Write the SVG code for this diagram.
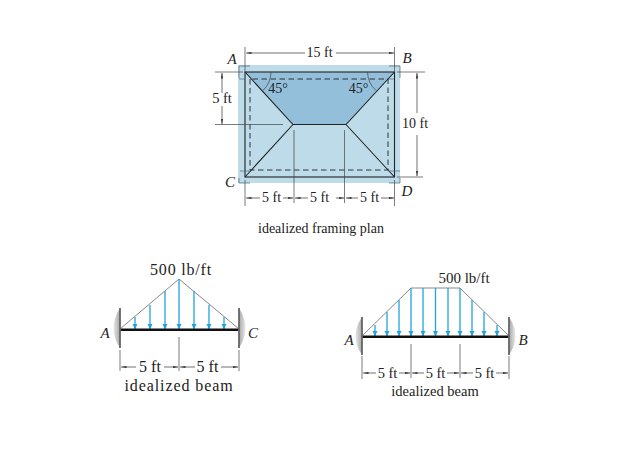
<svg xmlns="http://www.w3.org/2000/svg" width="638" height="451" viewBox="0 0 638 451">
<defs>
<marker id="dim" markerWidth="6" markerHeight="4" refX="5.500" refY="2" orient="auto" markerUnits="userSpaceOnUse"><path d="M0,0.900 L6,2 L0,3.100Z" fill="#333"/></marker>
<marker id="load" markerWidth="6" markerHeight="6" refX="3" refY="5.500" orient="0" markerUnits="userSpaceOnUse"><path d="M0.300,0 L5.700,0 L3,6Z" fill="#1fa5dc"/></marker>
<linearGradient id="wallL" x1="0" x2="1" y1="0" y2="0"><stop offset="0" stop-color="#e8e8e8"/><stop offset="1" stop-color="#a8a8a8"/></linearGradient>
<linearGradient id="wallR" x1="0" x2="1" y1="0" y2="0"><stop offset="0" stop-color="#a8a8a8"/><stop offset="1" stop-color="#e8e8e8"/></linearGradient>
</defs>
<style>
text{font-family:"Liberation Serif",serif;font-size:14px;fill:#222}
.i{font-style:italic;font-size:15px}
.m{text-anchor:middle}
.d{stroke:#444;stroke-width:.7;fill:none}
.da{stroke:#333;stroke-width:.7;fill:none;marker-end:url(#dim)}
.e{stroke:#222;stroke-width:1.100;fill:none}
.l{stroke:#1fa5dc;stroke-width:1.300;marker-end:url(#load)}
.p{stroke:#888;stroke-width:1;fill:none}
</style>
<rect width="638" height="451" fill="#fff"/>
<g id="framing-plan">
<rect x="238" y="65" width="162" height="118" fill="#bedbe9"/>
<path d="M245,72H394.500L346,124.500H293Z" fill="#93bfdb"/>
<path d="M250,79V170H388V79H250" fill="none" stroke="#222" stroke-width=".9" stroke-dasharray="5.500 3.500"/>
<rect x="245" y="72" width="149.500" height="105" class="e"/>
<path d="M245,72L293,124.500H346L394.500,72M293,124.500L245,177M346,124.500L394.500,177" class="e"/>
<path d="M239,78V66H250M239,178V183H250M389,66H400V78M389,183H400V178M239,79H245M389,79H394M240,171H250M389,171H400" fill="none" stroke="#4a6678" stroke-width=".7"/>
</g>
<g id="connectors">
<path class="d" d="M245,47V72M394.500,47V72M215,72H243M397,72H425M215,124.500H283M397,177H423M245,180V206M294,130V203M344.500,130V203M394.500,180V206"/>
<path class="da" d="M305,53H246"/><path class="da" d="M336,53H394"/>
<path class="da" d="M222,93V73"/><path class="da" d="M222,106V124"/>
<path class="da" d="M417,113V73"/><path class="da" d="M417,135V176"/>
<path class="da" d="M260,198H246"/><path class="da" d="M283,198H293"/><path class="da" d="M308,198H295"/><path class="da" d="M336,198H344"/><path class="da" d="M358,198H346"/><path class="da" d="M381,198H394"/>
<path class="d" d="M271,72A26,26 0 0 1 263,90.500M367.500,72A26,26 0 0 0 376,90.500"/>
<path class="d" d="M120,350V371M179,337V371M239,350V371M362,356V379M411,344V378M460,344V378M509,356V379"/>
<path class="da" d="M136,367H121"/><path class="da" d="M164,367H178"/><path class="da" d="M195,367H180"/><path class="da" d="M221,367H238"/>
<path class="da" d="M376,373H363"/><path class="da" d="M399,373H410"/><path class="da" d="M424,373H412"/><path class="da" d="M447,373H459"/><path class="da" d="M473,373H461"/><path class="da" d="M496,373H508"/>
</g>
<g id="beam-ac">
<path d="M120,308Q107,328 120,348Z" fill="url(#wallL)"/>
<path d="M239,308Q252,328 239,348Z" fill="url(#wallR)"/>
<path class="p" d="M120,329L179,279L239,329"/>
<path class="l" d="M135,317V329"/><path class="l" d="M150,305V329"/><path class="l" d="M165,291V329"/><path class="l" d="M179,279V329"/><path class="l" d="M194,291V329"/><path class="l" d="M209,305V329"/><path class="l" d="M224,317V329"/>
<path d="M120,329.700H239" stroke="#111" stroke-width="2.400"/>
<path d="M120,308V348M239,308V348" stroke="#666" stroke-width="1.800"/>
</g>
<g id="beam-ab">
<path d="M362,317Q349,336 362,355Z" fill="url(#wallL)"/>
<path d="M509,317Q522,336 509,355Z" fill="url(#wallR)"/>
<path class="p" d="M362,336L411,288H460L509,336"/>
<path class="l" d="M375,325V336"/><path class="l" d="M387,312V336"/><path class="l" d="M399,300V336"/><path class="l" d="M411,288V336"/><path class="l" d="M423,288V336"/><path class="l" d="M435.500,288V336"/><path class="l" d="M448,288V336"/><path class="l" d="M460,288V336"/><path class="l" d="M472,300V336"/><path class="l" d="M484,312V336"/><path class="l" d="M497,325V336"/>
<path d="M362,336.700H509" stroke="#111" stroke-width="2.400"/>
<path d="M362,317V355M509,317V355" stroke="#666" stroke-width="1.800"/>
</g>
<g id="labels">
<text x="232" y="64" class="i m">A</text><text x="407" y="63" class="i m">B</text><text x="230" y="187" class="i m">C</text><text x="407" y="196" class="i m">D</text>
<text x="319.500" y="57" class="m">15 ft</text><text x="222" y="103" class="m" style="font-size:14.500px">5 ft</text><text x="415" y="128" class="m">10 ft</text>
<text x="278" y="93" class="m">45°</text><text x="358.500" y="93" class="m">45°</text>
<text x="271.500" y="202" class="m">5 ft</text><text x="319.500" y="202" class="m">5 ft</text><text x="369.500" y="202" class="m">5 ft</text>
<text x="321" y="233" class="m">idealized framing plan</text>
<text x="181" y="275" class="m" style="font-size:16px;letter-spacing:.8px">500 lb/ft</text>
<text x="105" y="338" class="i m">A</text><text x="253" y="338" class="i m">C</text>
<text x="150" y="372" class="m" style="font-size:16px">5 ft</text><text x="207.500" y="372" class="m" style="font-size:16px">5 ft</text>
<text x="179" y="391" class="m" style="font-size:16px;letter-spacing:.9px">idealized beam</text>
<text x="464" y="283" class="m" style="font-size:15px">500 lb/ft</text>
<text x="349" y="345" class="i m">A</text><text x="523" y="345" class="i m">B</text>
<text x="387.500" y="378" class="m" style="font-size:14.500px">5 ft</text><text x="435.500" y="378" class="m" style="font-size:14.500px">5 ft</text><text x="484.500" y="378" class="m" style="font-size:14.500px">5 ft</text>
<text x="435" y="396" class="m" style="font-size:14.500px">idealized beam</text>
</g>
</svg>
